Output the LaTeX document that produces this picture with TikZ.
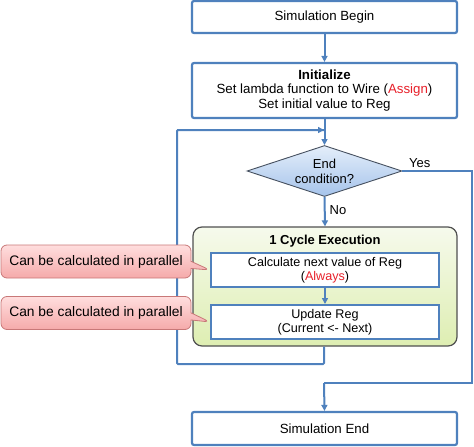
\documentclass[tikz,border=0pt]{standalone}
\usepackage{fontspec}
\setmainfont{Liberation Sans}
\usetikzlibrary{shapes.geometric,shapes.callouts,arrows.meta}
\definecolor{bblue}{HTML}{4F81BD}
\definecolor{redtxt}{HTML}{E8202A}
\tikzset{
  flowbox/.style={draw=bblue,line width=2.2pt,rounded corners=2pt,fill=white,minimum width=265pt,align=center,inner sep=0pt,font=\fontsize{13.3}{14.2}\selectfont},
  innerbox/.style={draw=bblue,line width=2pt,fill=white,minimum width=228pt,minimum height=34pt,align=center,inner sep=0pt,font=\fontsize{12.6}{14}\selectfont},
  flow/.style={draw=bblue,line width=2pt,-{Triangle[length=6pt,width=6pt]}},
  plain/.style={draw=bblue,line width=2pt},
  callbox/.style={rectangle callout,draw={rgb,255:red,200;green,120;blue,120},line width=0.8pt,rounded corners=6pt,top color={rgb,255:red,255;green,222;blue,222},bottom color={rgb,255:red,245;green,170;blue,170},minimum width=190pt,minimum height=33pt,inner sep=0pt,font=\fontsize{13.8}{15}\selectfont},
  lbl/.style={font=\fontsize{13}{14}\selectfont,inner sep=0pt}
}
\begin{document}
\begin{tikzpicture}[x=1pt,y=-1pt]
\useasboundingbox (0,0) rectangle (474,447);
% boxes
\node[flowbox,minimum height=32pt] (begin) at (324.5,17) {Simulation Begin};
\node[flowbox,minimum height=55pt] (init) at (324.5,90.5) {\textbf{Initialize}\\Set lambda function to Wire (\textcolor{redtxt}{Assign})\\Set initial value to Reg};
\node[diamond,draw={rgb,255:red,70;green,80;blue,95},line width=0.9pt,top color={rgb,255:red,228;green,238;blue,250},bottom color={rgb,255:red,165;green,195;blue,235},minimum width=155pt,minimum height=51pt,aspect=3,inner sep=0pt,align=center,font=\fontsize{13}{15}\selectfont] (cond) at (324.5,171) {End\\condition?};
\node[draw={rgb,255:red,80;green,80;blue,80},line width=1.2pt,rounded corners=9pt,top color={rgb,255:red,246;green,250;blue,236},bottom color={rgb,255:red,222;green,238;blue,178},minimum width=264pt,minimum height=119pt,inner sep=0pt] (cycle) at (325,286.5) {};
\node[font=\bfseries\fontsize{13}{14}\selectfont] (ctitle) at (325,241) {1 Cycle Execution};
\node[innerbox] (calc) at (325,270) {Calculate next value of Reg\\(\textcolor{redtxt}{Always})};
\node[innerbox] (upd) at (325,322) {Update Reg\\(Current <- Next)};
\node[flowbox,minimum height=33pt] (endn) at (324.5,428.5) {Simulation End};
% coordinates
\coordinate (loopA) at (324,364);
\coordinate (loopB) at (177,364);
\coordinate (loopC) at (177,130);
\coordinate (loopD) at (324,130);
\coordinate (yesA) at (472,171);
\coordinate (yesB) at (472,383);
\coordinate (yesC) at (324,383);
% connectors
\draw[flow] (begin.south) -- (init.north);
\draw[flow] (init.south) -- (cond.north);
\draw[flow] (cond.south) -- node[lbl,right=4pt,pos=0.45] (nolbl) {No} (cycle.north);
\draw[flow] (calc.south) -- (upd.north);
\draw[plain,rounded corners=1pt] (cycle.south -| loopA) -- (loopA) -- (loopB) -- (loopC) -- (loopD);
\draw[flow] (loopC) -- (loopD);
\draw[plain] (cond.east) -- (yesA) -- (yesB) -- (yesC);
\draw[flow] (yesC) -- (endn.north);
\node[lbl,anchor=south west] (yeslbl) at (409,168) {Yes};
% callouts
\node[callbox,callout absolute pointer={(calc.west)}] (call1) at (96,261.5) {Can be calculated in parallel};
\node[callbox,callout absolute pointer={(upd.west)}] (call2) at (96,313) {Can be calculated in parallel};
\end{tikzpicture}
\end{document}
